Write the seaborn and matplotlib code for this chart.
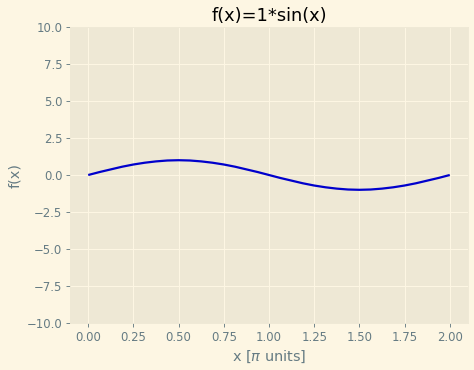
import numpy as np
import pandas as pd
import matplotlib.pyplot as plt
import seaborn as sns

# values (x in units of pi)
x_pi = [0.0, 0.0625, 0.125, 0.1875, 0.25, 0.3125, 0.375, 0.4375, 0.5,
        0.5625, 0.625, 0.6875, 0.75, 0.8125, 0.875, 0.9375, 1.0,
        1.0625, 1.125, 1.1875, 1.25, 1.3125, 1.375, 1.4375, 1.5,
        1.5625, 1.625, 1.6875, 1.75, 1.8125, 1.875, 1.9375, 2.0]
f_x = [0.00, 0.20, 0.38, 0.56, 0.71, 0.83, 0.92, 0.98, 1.00,
       0.98, 0.92, 0.83, 0.71, 0.56, 0.38, 0.20, 0.00,
       -0.20, -0.38, -0.56, -0.71, -0.83, -0.92, -0.98, -1.00,
       -0.98, -0.92, -0.83, -0.71, -0.56, -0.38, -0.20, 0.00]

df = pd.DataFrame({"x": x_pi, "y": f_x})

plt.style.use("Solarize_Light2")
fig, ax = plt.subplots(figsize=(474 / 80, 370 / 80), dpi=80)
sns.lineplot(data=df, x="x", y="y", color="#0000cc", linewidth=2.0, ax=ax)
ax.set_ylim(-10, 10)
ax.set_xticks([0.0, 0.25, 0.5, 0.75, 1.0, 1.25, 1.5, 1.75, 2.0])
ax.tick_params(labelsize=10.5)
ax.set_title("f(x)=1*sin(x)", color="black", pad=5)
ax.set_xlabel(r"x [$\pi$ units]", fontsize=13)
ax.set_ylabel("f(x)", fontsize=13)
fig.subplots_adjust(left=0.148, right=0.987, top=0.927, bottom=0.127)
plt.savefig("out.png")
